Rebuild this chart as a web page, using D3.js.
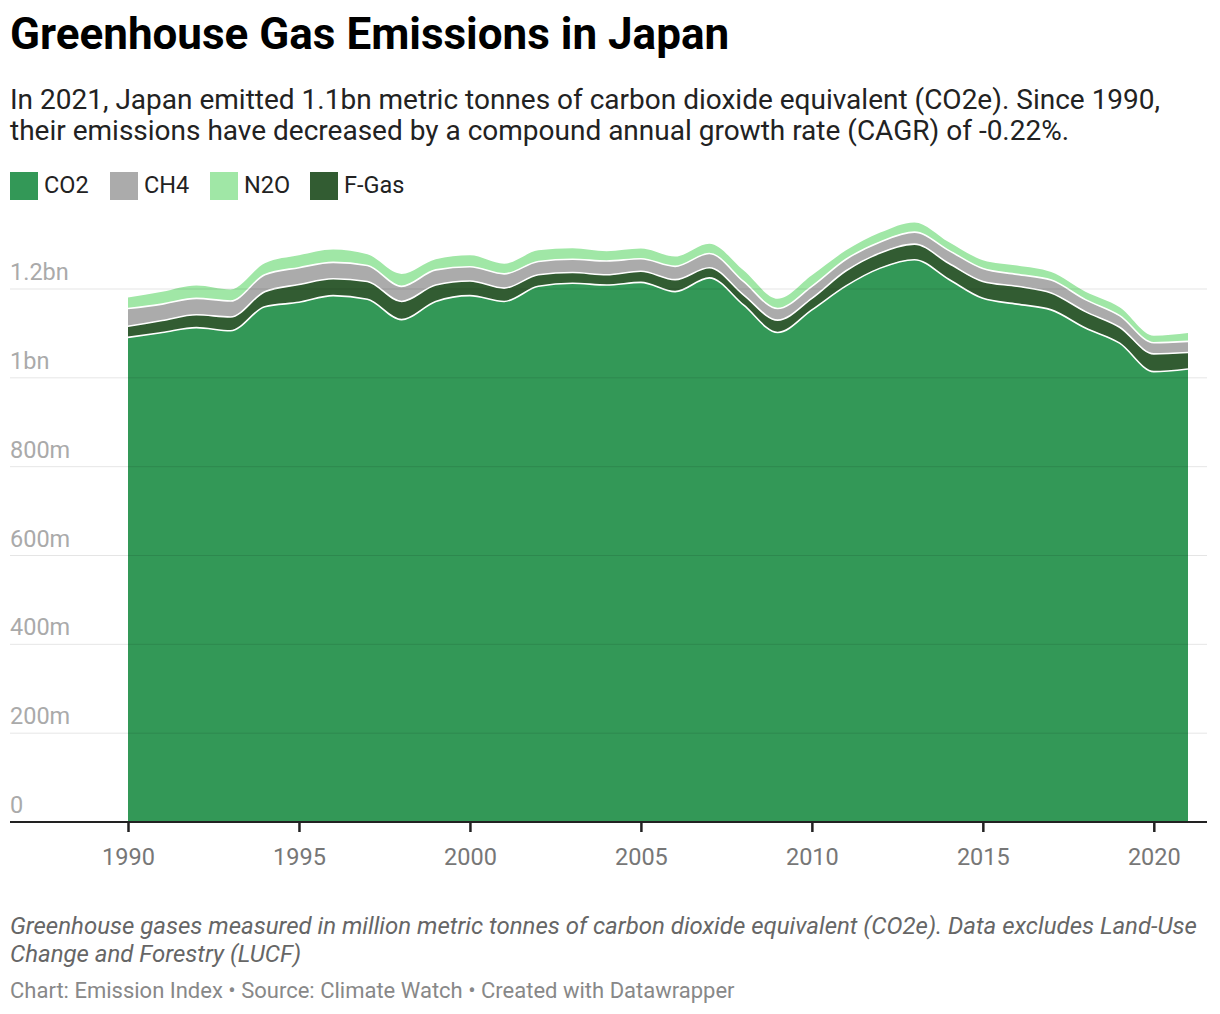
<!DOCTYPE html>
<html>
<head>
<meta charset="utf-8">
<script src="https://cdn.jsdelivr.net/npm/d3@7"></script>
<style>
  body { margin: 0; background: #fff; font-family: Roboto, "Noto Sans", sans-serif; }
  svg text { font-family: Roboto, "Noto Sans", sans-serif; }
</style>
</head>
<body>
<div id="chart"></div>
<script>
// Values in million tonnes CO2e
const years = d3.range(1990, 2022);
const co2 = [1091, 1102, 1113, 1106, 1160, 1170, 1185, 1177, 1131, 1172,
             1185, 1172, 1206, 1213, 1209, 1215, 1194, 1225, 1164, 1102,
             1153, 1207, 1247, 1266, 1222, 1179, 1166, 1153, 1112, 1078,
             1014, 1020];
const fgas = [25, 27, 29, 31, 34, 40, 38, 40, 41, 37,
              33, 30, 26, 24, 23, 25, 27, 23, 23, 28,
              26, 34, 34, 35, 36, 38, 40, 38, 37, 36,
              40, 37];
const ch4 = [40, 37, 37, 36, 38, 38, 37, 36, 34, 34,
             32, 32, 30, 30, 31, 28, 30, 32, 30, 26,
             27, 26, 25, 27, 29, 29, 27, 29, 27, 26,
             25, 25];
const n2o = [25, 28, 29, 26, 26, 28, 29, 25, 28, 24,
             26, 23, 25, 25, 22, 23, 22, 22, 25, 22,
             25, 20, 21, 22, 19, 19, 20, 18, 18, 19,
             16, 19];

const legendKeys = ["CO2", "CH4", "N2O", "F-Gas"];
const stackKeys = ["CO2", "F-Gas", "CH4", "N2O"]; // bottom to top
const colors = { "CO2": "#339857", "CH4": "#ababab", "N2O": "#a0e7a6", "F-Gas": "#325c32" };
const yTicks = [0, 200, 400, 600, 800, 1000, 1200];
const yTickLabels = ["0", "200m", "400m", "600m", "800m", "1bn", "1.2bn"];
const xTicks = [1990, 1995, 2000, 2005, 2010, 2015, 2020];

const rows = years.map((yr, i) => ({
  year: yr, "CO2": co2[i], "F-Gas": fgas[i], "CH4": ch4[i], "N2O": n2o[i]
}));

const width = 1220, height = 1014;
const svg = d3.select("#chart").append("svg")
  .attr("width", width)
  .attr("height", height);

// Header
svg.append("text")
  .attr("x", 10).attr("y", 49)
  .attr("font-size", 44).attr("font-weight", 700).attr("fill", "#000")
  .text("Greenhouse Gas Emissions in Japan");

const subtitle = [
  "In 2021, Japan emitted 1.1bn metric tonnes of carbon dioxide equivalent (CO2e). Since 1990,",
  "their emissions have decreased by a compound annual growth rate (CAGR) of -0.22%."
];
svg.append("g").selectAll("text")
  .data(subtitle).enter().append("text")
  .attr("x", 10).attr("y", (d, i) => 109 + i * 31)
  .attr("font-size", 28).attr("fill", "#222")
  .text((d) => d);

// Legend
const legendX = [10, 110, 210, 310];
const legend = svg.append("g").selectAll("g")
  .data(legendKeys).enter().append("g")
  .attr("transform", (d, i) => `translate(${legendX[i]},172)`);
legend.append("rect")
  .attr("width", 28).attr("height", 28)
  .attr("fill", (d) => colors[d]);
legend.append("text")
  .attr("x", 34).attr("y", 21)
  .attr("font-size", 23.5).attr("fill", "#222")
  .text((d) => d);

// Scales
const x = d3.scaleLinear().domain([1990, 2021]).range([128, 1188]);
const y = d3.scaleLinear().domain([0, 1200]).range([822, 289]);

// Stacked areas
const series = d3.stack().keys(stackKeys)(rows);
const area = d3.area()
  .curve(d3.curveMonotoneX)
  .x((d) => x(d.data.year))
  .y0((d) => y(d[0]))
  .y1((d) => y(d[1]));
const topLine = d3.line()
  .curve(d3.curveMonotoneX)
  .x((d) => x(d.data.year))
  .y((d) => y(d[1]));

const plot = svg.append("g");
plot.selectAll("path.area")
  .data(series).enter().append("path")
  .attr("class", "area")
  .attr("d", area)
  .attr("fill", (d) => colors[d.key]);

plot.selectAll("path.sep")
  .data(series.slice(0, 3)).enter().append("path")
  .attr("class", "sep")
  .attr("d", topLine)
  .attr("fill", "none")
  .attr("stroke", "#fff")
  .attr("stroke-width", 1.6);

// Gridlines on top, faint
const grid = svg.append("g");
grid.selectAll("line")
  .data(yTicks.filter((d) => d > 0)).enter().append("line")
  .attr("x1", 10).attr("x2", 1207)
  .attr("y1", (d) => y(d)).attr("y2", (d) => y(d))
  .attr("stroke", "#000").attr("stroke-opacity", 0.1).attr("stroke-width", 1);

grid.selectAll("text")
  .data(yTicks).enter().append("text")
  .attr("x", 10).attr("y", (d) => y(d) - 9)
  .attr("font-size", 23.5).attr("fill", "#aaa")
  .text((d, i) => yTickLabels[i]);

// X axis
const xAxis = svg.append("g")
  .attr("transform", `translate(0,${y(0)})`)
  .call(d3.axisBottom(x).tickValues(xTicks).tickFormat(d3.format("d")).tickSize(10).tickPadding(16));
xAxis.select(".domain").remove();
xAxis.selectAll(".tick line").attr("stroke", "#222").attr("stroke-width", 2.5);
xAxis.selectAll(".tick text").attr("font-size", 23.5).attr("fill", "#777")
  .attr("font-family", "Roboto, sans-serif");
xAxis.append("line")
  .attr("x1", 10).attr("x2", 1207)
  .attr("stroke", "#222").attr("stroke-width", 2);

// Footer
const notes = [
  "Greenhouse gases measured in million metric tonnes of carbon dioxide equivalent (CO2e). Data excludes Land-Use",
  "Change and Forestry (LUCF)"
];
svg.append("g").selectAll("text")
  .data(notes).enter().append("text")
  .attr("x", 10).attr("y", (d, i) => 934 + i * 28)
  .attr("font-size", 24).attr("font-style", "italic").attr("fill", "#666")
  .text((d) => d);

svg.append("text")
  .attr("x", 10).attr("y", 998)
  .attr("font-size", 22).attr("fill", "#888")
  .text("Chart: Emission Index \u2022 Source: Climate Watch \u2022 Created with Datawrapper");
</script>
</body>
</html>
